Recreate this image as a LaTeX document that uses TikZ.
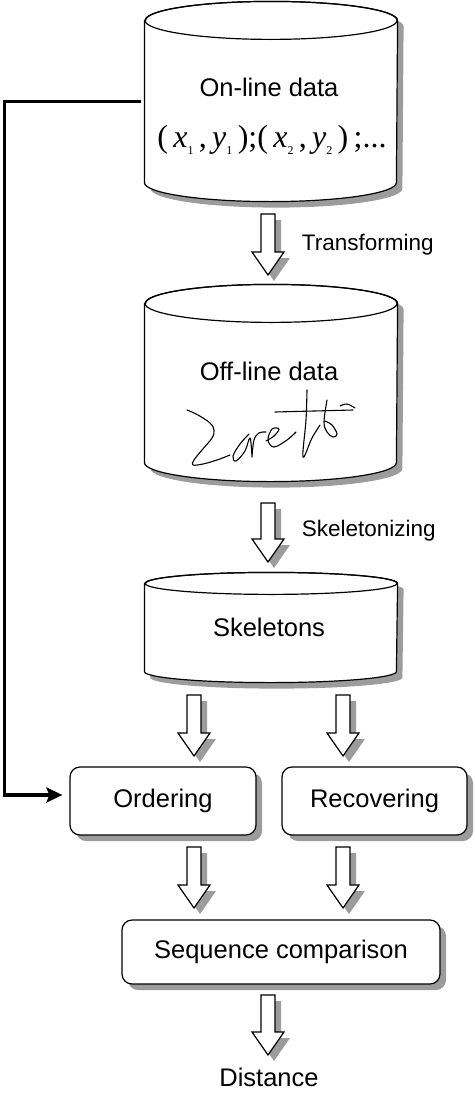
\documentclass[tikz,border=0pt]{standalone}
\usepackage{fontspec}
\setmainfont{Liberation Sans}
\newfontfamily\timesfont{Liberation Serif}
\usetikzlibrary{arrows.meta,shadows}
\definecolor{gray5}{HTML}{9c9c9c}
\newcommand{\mainsize}{\fontsize{25.5}{30}\selectfont}
\newcommand{\labelsize}{\fontsize{22.5}{26}\selectfont}
\newcommand{\lowidx}[1]{\raisebox{-0.22em}{\fontsize{12}{12}\selectfont #1}}
\newcommand{\dbshape}[2]{%
\fill[gray5] ([shift={(6,6)}]#1.north west) -- ([shift={(6,6)}]#1.south west) arc[start angle=180, end angle=0, x radius=126, y radius=#2] -- ([shift={(6,6)}]#1.north east) arc[start angle=0, end angle=-180, x radius=126, y radius=#2] -- cycle;
\draw[fill=white] (#1.north west) -- (#1.south west) arc[start angle=180, end angle=0, x radius=126, y radius=#2] -- (#1.north east) arc[start angle=0, end angle=-180, x radius=126, y radius=#2] -- cycle;
\draw (#1.north) ellipse[x radius=126, y radius=#2];}
\newcommand{\hollowdown}[3]{%
\fill[gray5, shift={(6,6)}] ({#1-7},#2) -- ({#1+7},#2) -- ({#1+7},{#3-23}) -- ({#1+16},{#3-23}) -- (#1,#3) -- ({#1-16},{#3-23}) -- ({#1-7},{#3-23}) -- cycle;
\draw[fill=white] ({#1-7},#2) -- ({#1+7},#2) -- ({#1+7},{#3-23}) -- ({#1+16},{#3-23}) -- (#1,#3) -- ({#1-16},{#3-23}) -- ({#1-7},{#3-23}) -- cycle;}

\begin{document}
\begin{tikzpicture}[x=1pt, y=-1pt, line width=1.2pt, align=center,
  dbbox/.style={inner sep=0pt, minimum width=252pt, font=\mainsize},
  procbox/.style={draw, fill=white, rounded corners=10pt, font=\mainsize,
    drop shadow={shadow xshift=6pt, shadow yshift=-6pt, fill=gray5, opacity=1}},
  steplabel/.style={anchor=west, font=\labelsize},
  feedback/.style={line width=3.5pt, -{Stealth[length=16pt, width=15pt, inset=3pt]}, shorten >=7pt, shorten <=3pt}]
\useasboundingbox (0,0) rectangle (474,1100);

\node[dbbox, minimum height=161pt] (online) at (271,101.5) {};
\dbshape{online}{19}
\node[font=\mainsize] (onlinetext) at (269,87) {On-line data};
\node[font=\timesfont\fontsize{32}{36}\selectfont, inner sep=0pt] (onlinexy) at (272,140)
  {(\,\textit{x}\lowidx{1}\,,\,\textit{y}\lowidx{1}\,);(\,\textit{x}\lowidx{2}\,,\,\textit{y}\lowidx{2}\,)\,;...};

\hollowdown{268}{214}{275}
\node[steplabel] (transform) at (298,245) {Transforming};

\node[dbbox, minimum height=158pt] (offline) at (271,383) {};
\dbshape{offline}{19}
\node[font=\mainsize] (offlinetext) at (269,371) {Off-line data};
\draw[line width=1.1pt, line cap=round, line join=round]
  plot[smooth, tension=0.6] coordinates {(187,410) (198,415) (210,423) (214,430) (212,438) (202,450) (194,460) (193,465) (203,464) (217,460) (230,455)}
  plot[smooth, tension=0.6] coordinates {(249,434) (240,444) (233,456) (236,461) (245,451) (250,438) (252,457)}
  plot[smooth, tension=0.6] coordinates {(252,457) (254,440) (259,433) (266,432)}
  plot[smooth, tension=0.6] coordinates {(266,441) (274,436) (279,429) (272,429) (268,440) (274,447) (287,440) (296,432)}
  plot[smooth, tension=0.6] coordinates {(307,390) (306,420) (303,457) (312,438) (320,425)}
  plot[smooth, tension=0.6] coordinates {(327,400) (324,422) (327,432) (333,437) (337,434) (332,425) (325,421)};
\draw[line width=1.1pt, line cap=round]
  (275,412) -- (353,410)
  plot[smooth, tension=0.6] coordinates {(340,406) (347,404) (355,408)};

\hollowdown{268}{503}{562}
\node[steplabel] (skeletonize) at (298,531) {Skeletonizing};

\node[dbbox, minimum height=87pt] (skeleton) at (271,627.5) {};
\dbshape{skeleton}{11}
\node[font=\mainsize] (skeletontext) at (269,627) {Skeletons};

\hollowdown{194}{695}{756}
\hollowdown{343}{695}{756}

\node[procbox, minimum width=186pt, minimum height=68pt] (ordering) at (163,801) {Ordering};
\node[procbox, minimum width=185pt, minimum height=68pt] (recovering) at (374.5,801) {Recovering};

\coordinate (fbk) at (4.5,0);
\draw[feedback] (online.west) -- (online.west -| fbk) |- ([yshift=6pt]ordering.west);

\hollowdown{194}{847}{908}
\hollowdown{343}{847}{908}

\node[procbox, minimum width=318pt, minimum height=64pt] (seqcomp) at (281,952) {Sequence comparison};

\hollowdown{268}{995}{1055}
\node[font=\mainsize] (distance) at (269,1077) {Distance};
\end{tikzpicture}
\end{document}
